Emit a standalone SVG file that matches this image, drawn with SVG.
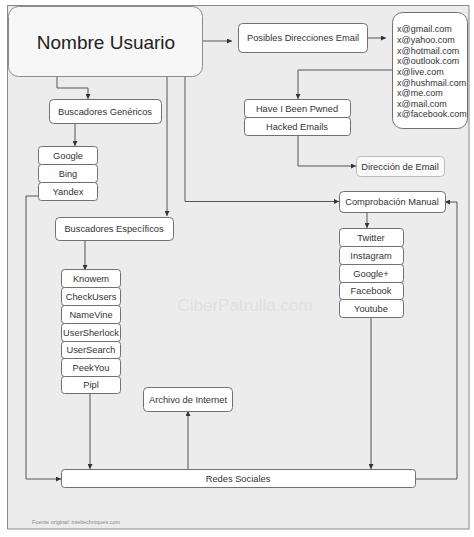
<svg xmlns="http://www.w3.org/2000/svg" width="474" height="537" viewBox="0 0 474 537">
<defs>
<style>
.b{fill:#fff;stroke:#707070;stroke-width:1}
.t{font-family:"Liberation Sans",Arial,sans-serif;font-size:9.3px;fill:#333;text-anchor:middle;dominant-baseline:central}
.c{fill:none;stroke:#555;stroke-width:1}
.e{font-family:"Liberation Sans",Arial,sans-serif;font-size:9px;fill:#333}
</style>
<marker id="a" viewBox="0 0 6 6" refX="6" refY="3" markerWidth="5" markerHeight="5" orient="auto"><path d="M0,0 L6,3 L0,6 z" fill="#333"/></marker>
</defs>
<rect x="0" y="0" width="474" height="537" fill="#fff"/>
<rect x="7.5" y="5.5" width="461.5" height="523.5" fill="#ececec" stroke="#8a8a8a" stroke-width="1"/>
<text x="245" y="305" font-family="Liberation Sans,Arial,sans-serif" font-size="17" fill="#e0e0e0" text-anchor="middle" dominant-baseline="central">CiberPatrulla.com</text>
<text x="32" y="524" font-family="Liberation Sans,Arial,sans-serif" font-size="5.5" fill="#888">Fuente original: inteltechniques.com</text>

<g id="connectors">
<path class="c" d="M203,41 H232" marker-end="url(#a)"/>
<path class="c" d="M368,38 H386" marker-end="url(#a)"/>
<path class="c" d="M392,70 H298 V99" marker-end="url(#a)"/>
<path class="c" d="M298,135 V166 H356" marker-end="url(#a)"/>
<path class="c" d="M57,76 V88 H88 V99" marker-end="url(#a)"/>
<path class="c" d="M75,123 V146" marker-end="url(#a)"/>
<path class="c" d="M167,76 V216" marker-end="url(#a)"/>
<path class="c" d="M185,76 V201.5 H339" marker-end="url(#a)"/>
<path class="c" d="M367,212 V228" marker-end="url(#a)"/>
<path class="c" d="M38,196 H26 V479 H61" marker-end="url(#a)"/>
<path class="c" d="M85,240 V270" marker-end="url(#a)"/>
<path class="c" d="M90,393 V469" marker-end="url(#a)"/>
<path class="c" d="M188,469 V411" marker-end="url(#a)"/>
<path class="c" d="M371,317 V469" marker-end="url(#a)"/>
<path class="c" d="M415,479 H457 V202 H445" marker-end="url(#a)"/>
</g>

<g id="nombre-usuario"><rect x="8.5" y="6.5" width="194" height="70" rx="10" fill="#f7f7f7" stroke="#8a8a8a"/><text class="t" x="106" y="42" style="font-size:19px;fill:#222">Nombre Usuario</text></g>
<g id="posibles"><rect class="b" x="238.5" y="23.5" width="129" height="29" rx="4"/><text class="t" x="303" y="38">Posibles Direcciones Email</text></g>
<g id="emails"><rect class="b" x="392.5" y="12.5" width="75" height="116" rx="10"/>
<text class="e" x="397" y="32">x@gmail.com</text>
<text class="e" x="397" y="43">x@yahoo.com</text>
<text class="e" x="397" y="53.5">x@hotmail.com</text>
<text class="e" x="397" y="64">x@outlook.com</text>
<text class="e" x="397" y="75">x@live.com</text>
<text class="e" x="397" y="85.5">x@hushmail.com</text>
<text class="e" x="397" y="96">x@me.com</text>
<text class="e" x="397" y="106.5">x@mail.com</text>
<text class="e" x="397" y="117">x@facebook.com</text>
</g>
<g id="pwned"><rect class="b" x="244.5" y="99.5" width="106" height="18" rx="3"/><text class="t" x="297" y="108.5">Have I Been Pwned</text></g>
<g id="hacked"><rect class="b" x="244.5" y="117.5" width="106" height="18" rx="3"/><text class="t" x="297" y="126.5">Hacked Emails</text></g>
<g id="direccion"><rect x="356.5" y="156.5" width="88" height="20" rx="4" fill="#fafafa" stroke="#bbb"/><text class="t" x="400" y="166.5">Dirección de Email</text></g>
<g id="genericos"><rect class="b" x="49.5" y="99.5" width="112" height="24" rx="4"/><text class="t" x="105" y="111.5">Buscadores Genéricos</text></g>
<g id="google"><rect class="b" x="38.5" y="146.5" width="59" height="18" rx="3"/><text class="t" x="68" y="155.5">Google</text></g>
<g id="bing"><rect class="b" x="38.5" y="164.5" width="59" height="18" rx="3"/><text class="t" x="68" y="173.5">Bing</text></g>
<g id="yandex"><rect class="b" x="38.5" y="182.5" width="59" height="18" rx="3"/><text class="t" x="68" y="191.5">Yandex</text></g>
<g id="especificos"><rect class="b" x="55.5" y="217.5" width="118" height="23" rx="4"/><text class="t" x="114" y="229">Buscadores Específicos</text></g>
<g id="knowem"><rect class="b" x="61.5" y="269.5" width="59" height="18" rx="3"/><text class="t" x="91" y="278.5">Knowem</text></g>
<g id="checkusers"><rect class="b" x="61.5" y="287.5" width="59" height="18" rx="3"/><text class="t" x="91" y="296.5">CheckUsers</text></g>
<g id="namevine"><rect class="b" x="61.5" y="305.5" width="59" height="18" rx="3"/><text class="t" x="91" y="314.5">NameVine</text></g>
<g id="usersherlock"><rect class="b" x="61.5" y="323.5" width="59" height="18" rx="3"/><text class="t" x="91" y="332.5">UserSherlock</text></g>
<g id="usersearch"><rect class="b" x="61.5" y="341.5" width="59" height="17" rx="3"/><text class="t" x="91" y="350">UserSearch</text></g>
<g id="peekyou"><rect class="b" x="61.5" y="358.5" width="59" height="18" rx="3"/><text class="t" x="91" y="367.5">PeekYou</text></g>
<g id="pipl"><rect class="b" x="61.5" y="376.5" width="59" height="17" rx="3"/><text class="t" x="91" y="385">Pipl</text></g>
<g id="archivo"><rect class="b" x="143.5" y="387.5" width="89" height="24" rx="4"/><text class="t" x="188" y="399.5">Archivo de Internet</text></g>
<g id="comprobacion"><rect class="b" x="339.5" y="191.5" width="106" height="21" rx="4"/><text class="t" x="392" y="202">Comprobación Manual</text></g>
<g id="twitter"><rect class="b" x="339.5" y="228.5" width="64" height="18" rx="3"/><text class="t" x="371" y="237.5">Twitter</text></g>
<g id="instagram"><rect class="b" x="339.5" y="246.5" width="64" height="18" rx="3"/><text class="t" x="371" y="255.5">Instagram</text></g>
<g id="googleplus"><rect class="b" x="339.5" y="264.5" width="64" height="18" rx="3"/><text class="t" x="371" y="273.5">Google+</text></g>
<g id="facebook"><rect class="b" x="339.5" y="282.5" width="64" height="17" rx="3"/><text class="t" x="371" y="291">Facebook</text></g>
<g id="youtube"><rect class="b" x="339.5" y="299.5" width="64" height="18" rx="3"/><text class="t" x="371" y="308.5">Youtube</text></g>
<g id="redes"><rect class="b" x="61.5" y="469.5" width="354" height="18" rx="3"/><text class="t" x="238" y="478.5">Redes Sociales</text></g>
</svg>
